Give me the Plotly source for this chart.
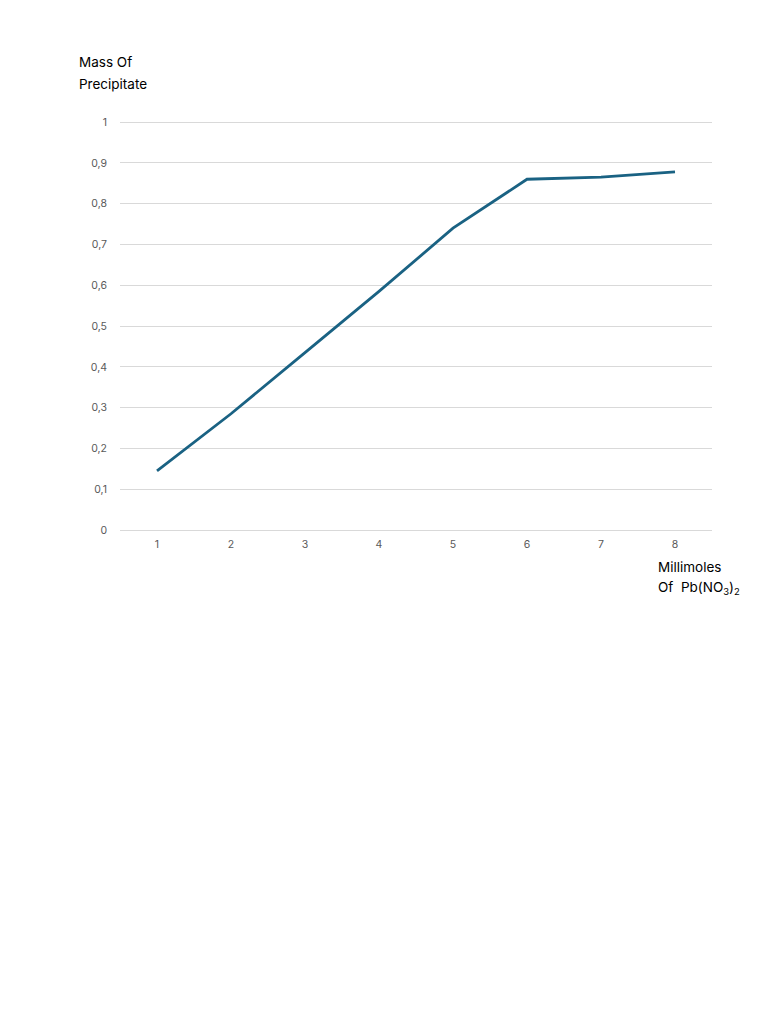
import plotly.graph_objects as go

# data
millimoles = [1, 2, 3, 4, 5, 6, 7, 8]
mass_precipitate = [0.145, 0.285, 0.435, 0.585, 0.74, 0.86, 0.865, 0.878]
y_ticks = [0, 0.1, 0.2, 0.3, 0.4, 0.5, 0.6, 0.7, 0.8, 0.9, 1]

TITLE_FONT = dict(size=13.5, color='#000000', family='Inter, Lato, sans-serif')

fig = go.Figure()

fig.add_trace(go.Scatter(
    x=millimoles,
    y=mass_precipitate,
    mode='lines',
    line=dict(color='#1a6283', width=2.8),
    showlegend=False,
    hoverinfo='skip'
))

# page body adds 8px, so the figure is 752x1008
# y range goes a bit past 1 so the top gridline is still drawn
fig.update_layout(
    width=752,
    height=1008,
    plot_bgcolor='#FFFFFF',
    paper_bgcolor='#FFFFFF',
    separators=', ',
    font=dict(family='Inter, Lato, sans-serif', color='#595959', size=10),
    margin=dict(l=112, r=48, t=106, b=486, autoexpand=False),
    xaxis=dict(
        range=[0.5, 8.5],
        tickvals=millimoles,
        showgrid=False,
        zeroline=False,
        showline=False,
        ticks='',
        ticklabelstandoff=6,
        tickfont=dict(size=10.5, color='#595959'),
    ),
    yaxis=dict(
        range=[0, 1.02],
        tickvals=y_ticks,
        tickformat='.1~f',
        gridcolor='#d9d9d9',
        gridwidth=1,
        zeroline=True,
        zerolinecolor='#d9d9d9',
        zerolinewidth=1,
        showline=False,
        ticks='',
        ticklabelstandoff=12,
        tickfont=dict(size=10.5, color='#595959'),
    ),
)

# axis titles sit outside the plot area, one annotation per line
# (positions in pixels of the figure, converted to paper coords)
plot_left, plot_top, plot_w, plot_h = 112, 106, 592, 416
title_lines = [
    ('Mass Of', 69, 54),
    ('Precipitate', 69, 76),
    ('Millimoles', 648, 559),
    ('Of  Pb(NO<sub>3</sub>)<sub>2</sub>', 648, 580),
]
for text, px, py in title_lines:
    fig.add_annotation(
        text=text, xref='paper', yref='paper',
        x=(px - plot_left) / plot_w,
        y=(plot_top + plot_h - py) / plot_h,
        xanchor='left', yanchor='middle', align='left', showarrow=False,
        font=TITLE_FONT
    )

fig.write_html('out.html')
